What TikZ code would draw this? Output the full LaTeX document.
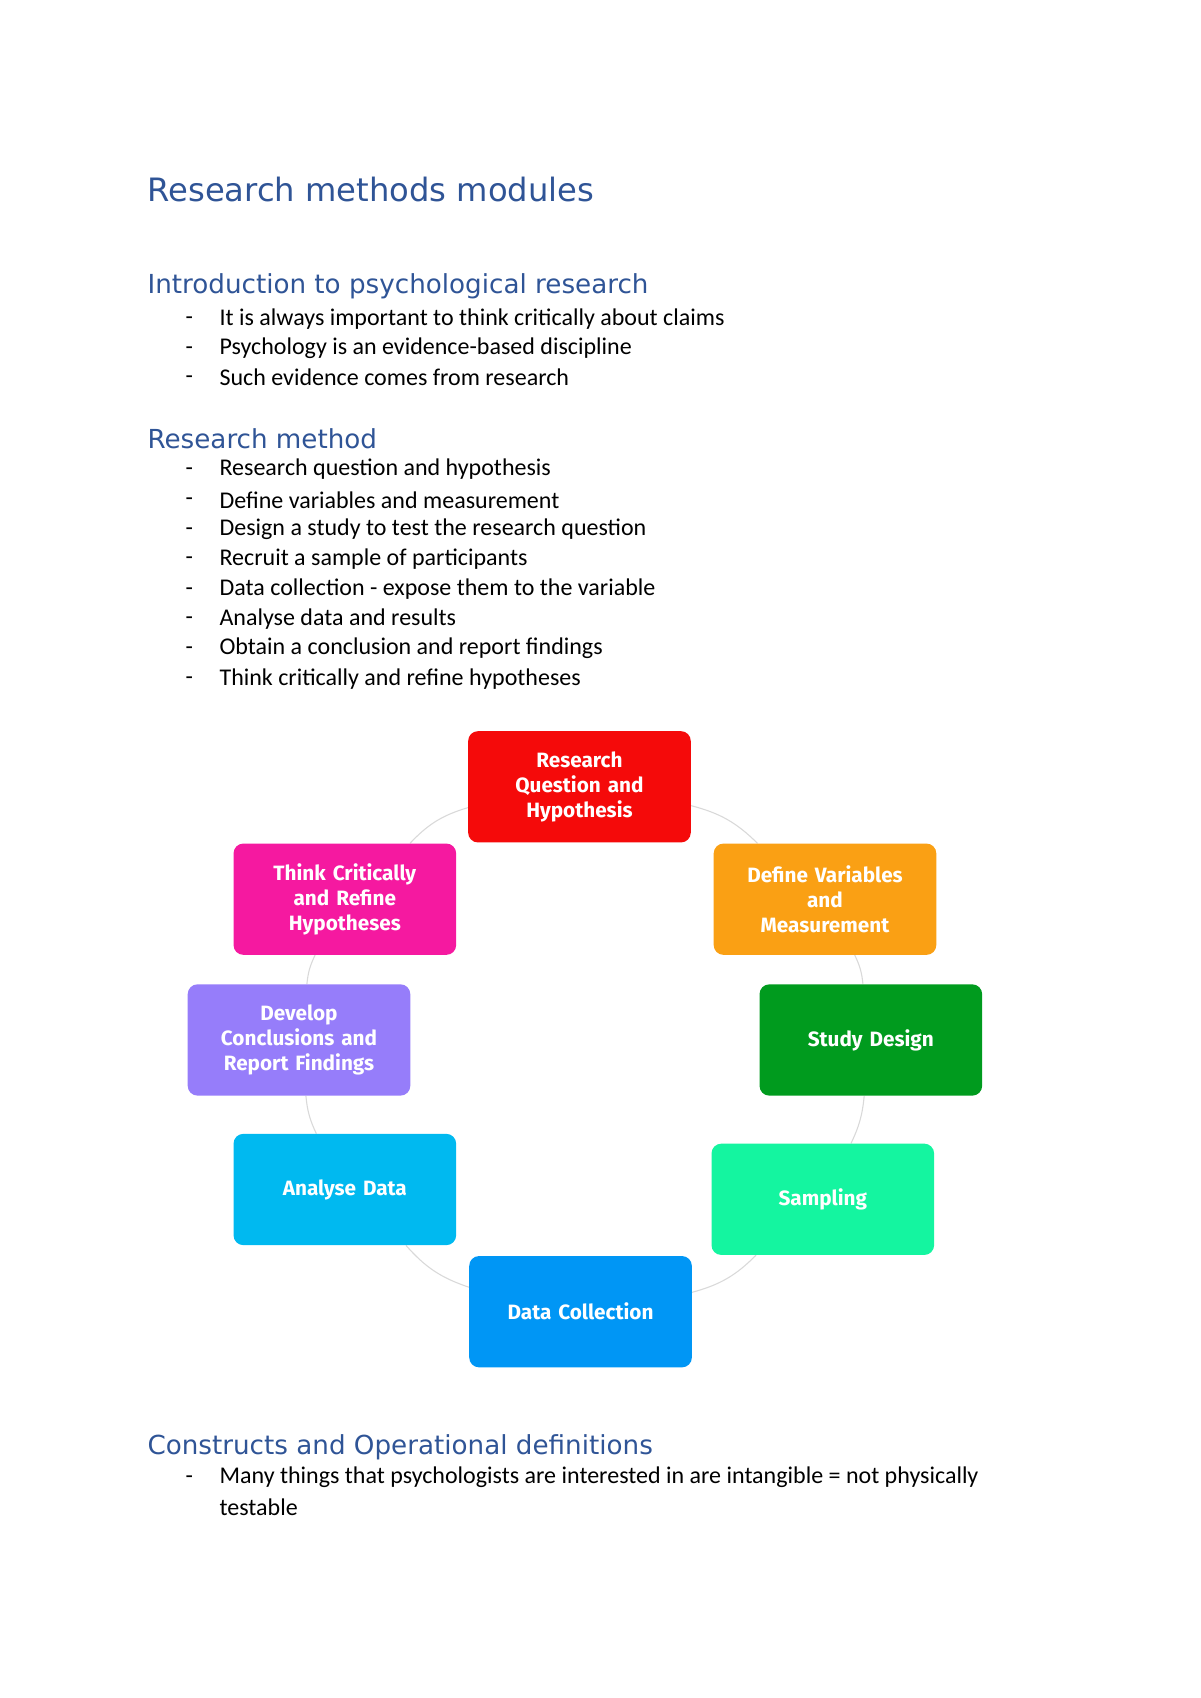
\documentclass[tikz,border=0pt]{standalone}
\usepackage{fontspec}
\setmainfont{Carlito}
\newfontfamily\headfont{DejaVu Sans}
\newfontfamily\boxfont{Fira Sans}
\usetikzlibrary{backgrounds}
\definecolor{headblue}{HTML}{2F5496}
\tikzset{
 hd/.style={anchor=west,inner sep=0pt,text=headblue,font=\headfont\fontsize{24}{28}\selectfont},
 bl/.style={anchor=west,inner sep=0pt,font=\fontsize{22}{26}\selectfont},
 dsh/.style={anchor=west,inner sep=0pt,font=\fontsize{22}{26}\selectfont},
 cbox/.style={rounded corners=9pt,minimum width=204pt,minimum height=102pt,text width=196pt,align=center,text=white,font=\boxfont\bfseries\fontsize{19}{23}\selectfont,inner sep=0pt},
 link/.style={draw=black!15,line width=1pt}
}
\begin{document}
\begin{tikzpicture}[x=1pt,y=-1pt]
\useasboundingbox (0,0) rectangle (1100,1556);
\node[hd,font=\headfont\fontsize{29.5}{32}\selectfont] (t) at (135,174) {Research methods modules};
\node[hd] (h1) at (135,262) {Introduction to psychological research};
\foreach \y/\s [count=\i] in {292/It is always important to think critically about claims,319/Psychology is an evidence-based discipline,346/Such evidence comes from research}{
 \node[dsh] (da\i) at (170,\y+2) {-}; \node[bl] (a\i) at (201,\y) {\s};}
\node[hd] (h2) at (135,402) {Research method};
\foreach \y/\s [count=\i] in {430/Research question and hypothesis,458/Define variables and measurement,485/Design a study to test the research question,512/Recruit a sample of participants,540/Data collection - expose them to the variable,567/Analyse data and results,594/Obtain a conclusion and report findings,622/Think critically and refine hypotheses}{
 \node[dsh] (db\i) at (170,\y+2) {-}; \node[bl] (b\i) at (201,\y) {\s};}
\node[hd] (h3) at (135,1326) {Constructs and Operational definitions};
\node[dsh] (dc1) at (170,1356) {-};
\node[bl] (c1) at (201,1354) {Many things that psychologists are interested in are intangible = not physically};
\node[bl] (c2) at (201,1381) {testable};

\node[cbox,fill={rgb,255:red,245;green,10;blue,10}] (r) at (531,721) {Research\\Question and\\Hypothesis};
\node[cbox,fill={rgb,255:red,250;green,160;blue,20}] (o) at (756,824) {Define Variables\\and\\Measurement};
\node[cbox,fill={rgb,255:red,0;green,155;blue,30}] (g) at (798,953) {Study Design};
\node[cbox,fill={rgb,255:red,20;green,245;blue,160}] (s) at (754,1099) {Sampling};
\node[cbox,fill={rgb,255:red,0;green,150;blue,245}] (d) at (532,1202) {Data Collection};
\node[cbox,fill={rgb,255:red,0;green,185;blue,240}] (a) at (316,1090) {Analyse Data};
\node[cbox,fill={rgb,255:red,150;green,125;blue,250}] (p) at (274,953) {Develop\\Conclusions and\\Report Findings};
\node[cbox,fill={rgb,255:red,245;green,25;blue,160}] (k) at (316,824) {Think Critically\\and Refine\\Hypotheses};
\begin{scope}[on background layer]
\draw[link] (r) to[bend left=15] (o);
\draw[link] (o) to[bend left=10] (g);
\draw[link] (g) to[bend left=10] (s);
\draw[link] (s) to[bend left=15] (d);
\draw[link] (d) to[bend left=15] (a);
\draw[link] (a) to[bend left=10] (p);
\draw[link] (p) to[bend left=10] (k);
\draw[link] (k) to[bend left=15] (r);
\end{scope}
\end{tikzpicture}
\end{document}
